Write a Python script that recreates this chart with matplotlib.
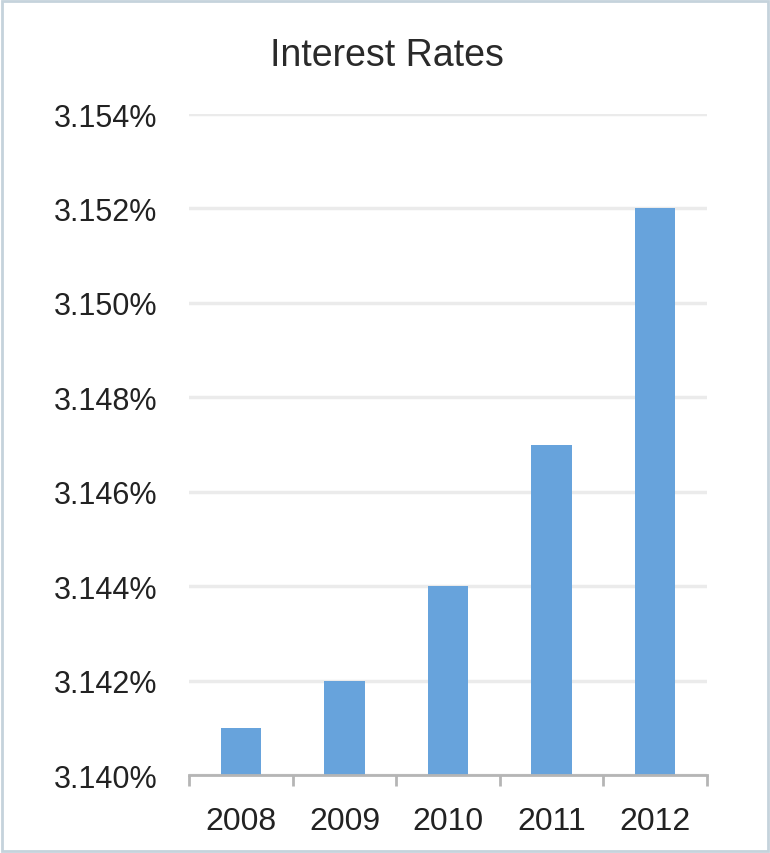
import matplotlib.pyplot as plt
from matplotlib.patches import Rectangle
from matplotlib.ticker import FuncFormatter
import numpy as np

years = ["2008", "2009", "2010", "2011", "2012"]
rates = [3.141, 3.142, 3.144, 3.147, 3.152]
y_ticks = [3.140, 3.142, 3.144, 3.146, 3.148, 3.150, 3.152, 3.154]

plt.rcParams['font.family'] = ['Liberation Sans', 'DejaVu Sans']

fig = plt.figure(figsize=(7.7, 8.54), dpi=100)
ax = fig.add_axes([0.246, 0.0913, 0.672, 0.774])

x = np.arange(len(years))
ax.bar(x, [r - y_ticks[0] for r in rates], bottom=y_ticks[0], width=0.39,
       color="#67a3dc", zorder=3)

ax.set_xlim(-0.5, len(years) - 0.5)
ax.set_ylim(y_ticks[0], y_ticks[-1])
ax.set_yticks(y_ticks)
ax.yaxis.set_major_formatter(FuncFormatter(lambda v, p: f"{v:.3f}%"))
ax.grid(axis="y", color="#ebebeb", linewidth=2.5, zorder=0)
ax.tick_params(axis="y", length=0, pad=23, labelsize=22, labelcolor="#222222")

ax.set_xticks(x)
ax.set_xticklabels(years)
ax.set_xticks(np.arange(-0.5, len(years)), minor=True)
ax.tick_params(axis="x", which="major", length=0, pad=22, labelsize=23,
               labelcolor="#222222")
ax.tick_params(axis="x", which="minor", length=8, width=2, color="#b5b5b5",
               direction="out")

for side in ["top", "right", "left"]:
    ax.spines[side].set_visible(False)
ax.spines["bottom"].set_color("#b5b5b5")
ax.spines["bottom"].set_linewidth(2)
ax.spines["bottom"].set_zorder(4)

fig.text(0.502, 0.935, "Interest Rates", ha="center", va="center",
         fontsize=27, color="#2a2a2a")

fig.patches.append(Rectangle((0.002, 0.002), 0.996, 0.996, transform=fig.transFigure,
                             fill=False, edgecolor="#c5d3dc", linewidth=2))

plt.savefig("out.png", dpi=100)
plt.close(fig)
